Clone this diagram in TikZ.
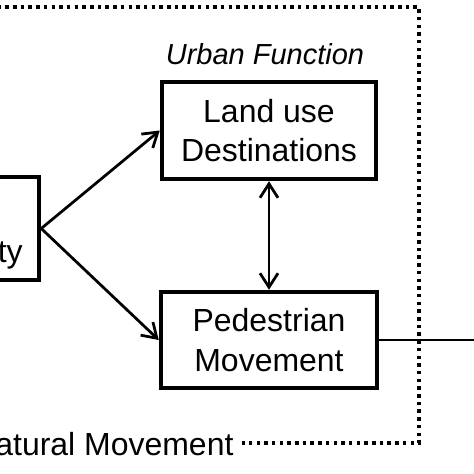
\documentclass[tikz,border=0pt]{standalone}
\usepackage{fontspec}
\setmainfont{Liberation Sans}
\usetikzlibrary{arrows.meta}

\begin{document}
\begin{tikzpicture}[x=0.02cm,y=-0.02cm,
    box/.style={draw,line width=0.09cm,inner sep=0pt,align=center,
        font=\fontsize{18.2pt}{22.6pt}\selectfont},
    link/.style={line width=0.055cm},
    frame/.style={line width=0.07cm,dash pattern=on 0.07cm off 0.084cm},
    >={Straight Barb[length=0.28cm,width=0.36cm]}]
    \useasboundingbox (0,0) rectangle (474,474);

    \node[box,minimum width=4.28cm,minimum height=1.94cm] (land) at (269,130.5) {Land use\\Destinations};
    \node[box,minimum width=4.32cm,minimum height=1.92cm] (ped) at (269,340) {Pedestrian\\Movement};
    \node[box,minimum width=1.98cm,minimum height=2.06cm] (conf) at (-10.5,228.5) {};
    \node[anchor=base east,inner sep=0pt,font=\fontsize{18.2pt}{22.6pt}\selectfont] (conftext) at (23,262) {ty};
    \node[anchor=base,inner sep=0pt,font=\fontsize{16.5pt}{19pt}\selectfont\itshape] (func) at (265,64) {Urban Function};
    \node[anchor=base west,inner sep=0pt,font=\fontsize{18.2pt}{22.6pt}\selectfont] (nat) at (-5,455) {atural Movement};

    \draw[link,->] (conf.east) -- (land.west);
    \draw[link,->] (conf.east) -- (ped.west);
    \draw[link,<->] (land.south) -- (ped.north);

    \coordinate (exit) at (480,340);
    \draw[link] (ped.east) -- (exit);

    % natural movement frame
    \coordinate (fr1) at (-10,7);
    \coordinate (fr2) at (419,7);
    \coordinate (fr3) at (419,443);
    \coordinate (fr4) at (242,443);
    \draw[frame] (fr1) -- (fr2) -- (fr3) -- (fr4);
\end{tikzpicture}
\end{document}
